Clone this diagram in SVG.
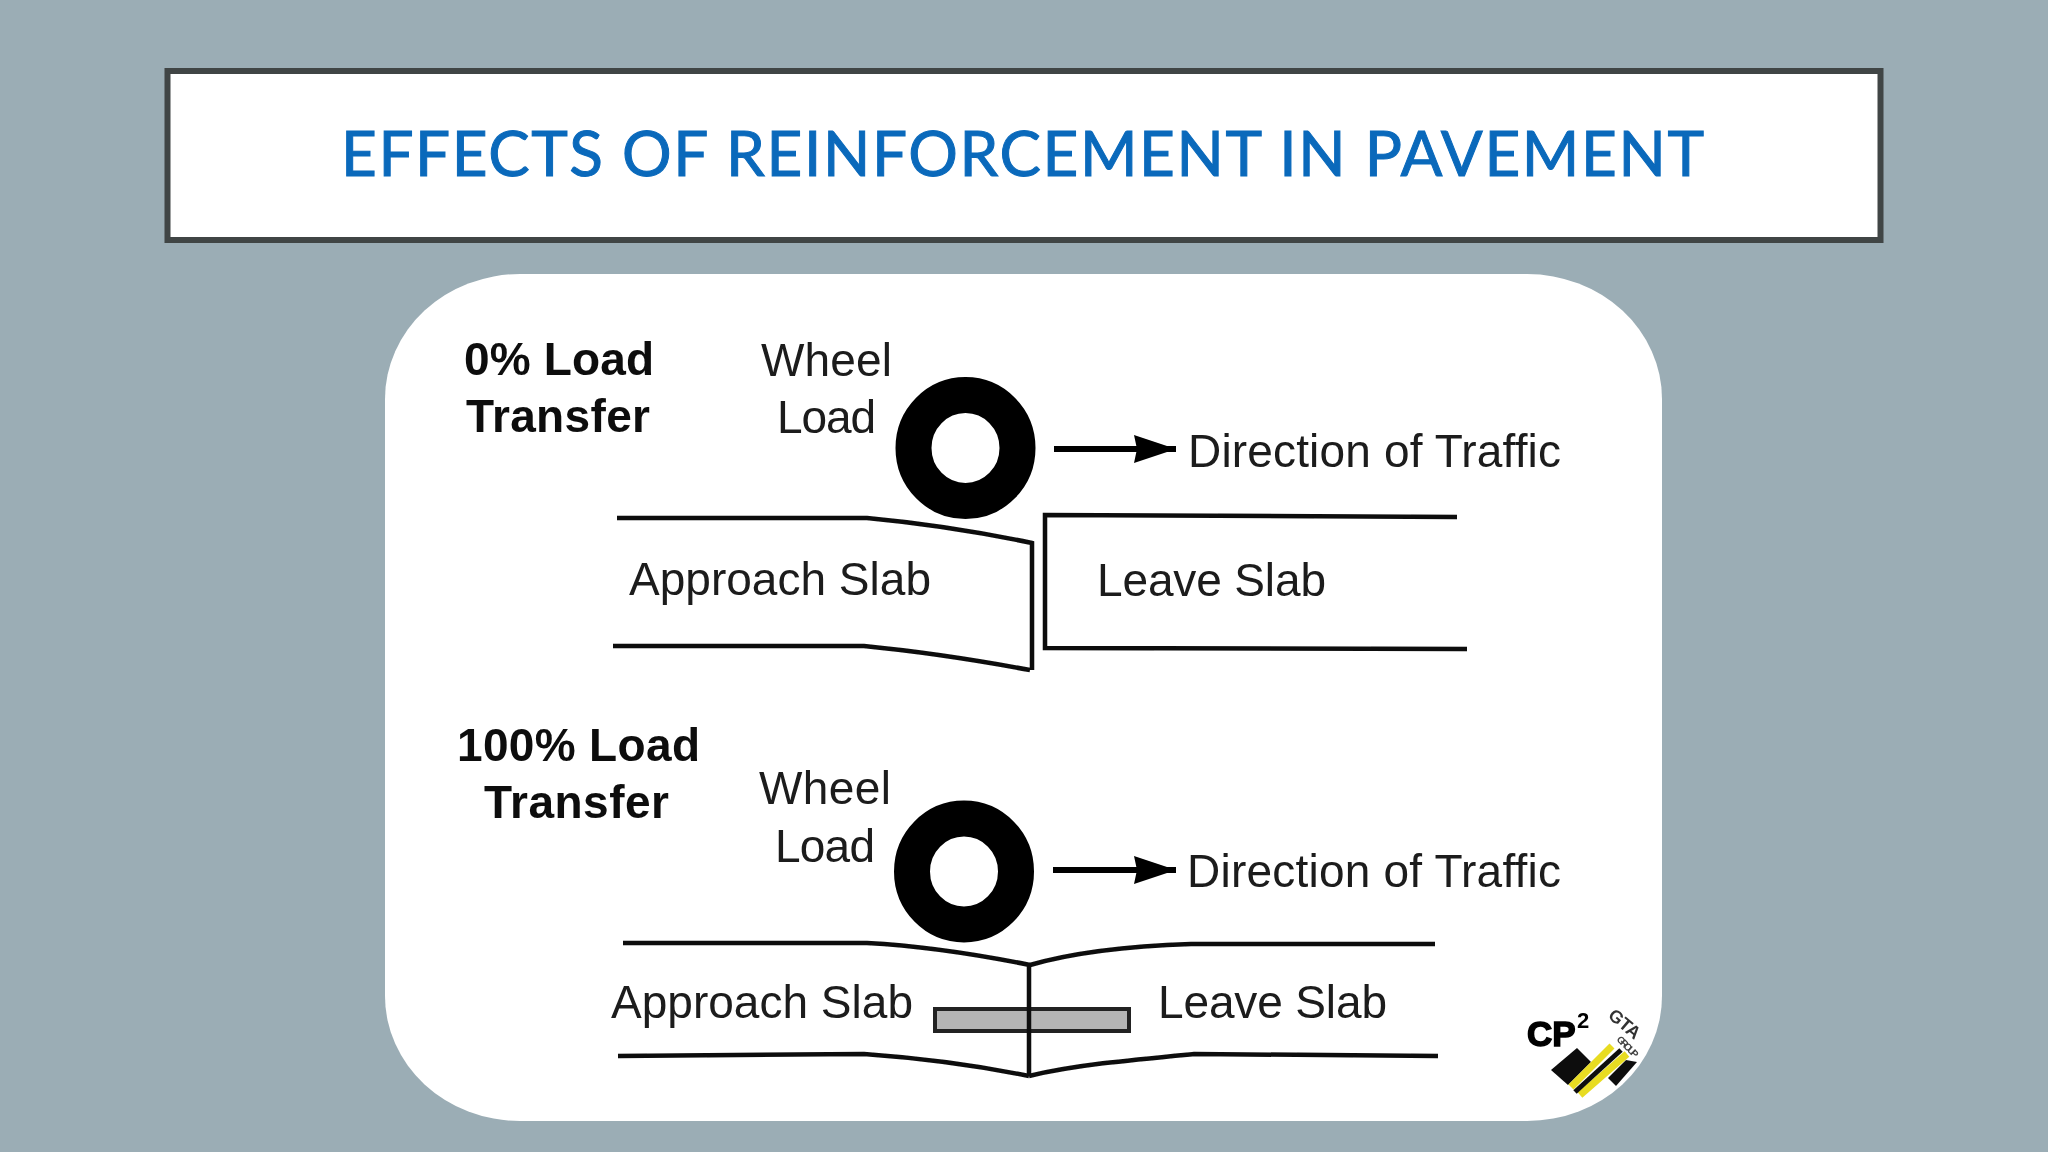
<svg xmlns="http://www.w3.org/2000/svg" width="2048" height="1152" viewBox="0 0 2048 1152">
<style>
.t{font-family:"Liberation Sans",Arial,sans-serif;font-size:46px;fill:#1a1a1a}
.b{font-weight:700;fill:#0c0c0c}
.l{fill:none;stroke:#0e0e0e;stroke-width:4.500;stroke-linejoin:miter}
.a{fill:none;stroke:#000;stroke-width:6}
</style>
<defs>
<filter id="soft" x="-5%" y="-5%" width="110%" height="110%"><feGaussianBlur stdDeviation="0.6"/></filter>
<marker id="head" markerUnits="userSpaceOnUse" markerWidth="44" markerHeight="30" refX="42" refY="15" orient="auto"><path d="M0 1 L42 15 L0 29 L3 15 Z" fill="#000"/></marker>
</defs>
<rect width="2048" height="1152" fill="#9badb5"/>
<g id="title">
<rect x="167.500" y="71" width="1713" height="169" fill="#fff" stroke="#404545" stroke-width="6"/>
<text x="341" y="176" font-family="Lato,'Open Sans',sans-serif" font-size="62" fill="#0a69bb" stroke="#0a69bb" stroke-width="1" textLength="1363" lengthAdjust="spacing">EFFECTS OF REINFORCEMENT IN PAVEMENT</text>
</g>
<g id="card"><rect x="385" y="274" width="1277" height="847" rx="135" ry="125" fill="#fff"/></g>
<g id="diagram" filter="url(#soft)">
<g id="top-heading"><text class="t b"><tspan x="464" y="375" textLength="190">0% Load</tspan><tspan x="466" y="432" textLength="184">Transfer</tspan></text></g>
<g id="top-wheel-label"><text class="t"><tspan x="761" y="376" textLength="131">Wheel</tspan><tspan x="777" y="433" textLength="99">Load</tspan></text></g>
<g id="top-wheel"><ellipse cx="965.500" cy="448" rx="52" ry="53" fill="none" stroke="#000" stroke-width="36"/></g>
<g id="top-traffic"><text class="t" x="1188" y="467" textLength="373">Direction of Traffic</text></g>
<g id="top-approach-slab">
<path class="l" d="M617 518 H867 C910 522 960 528 1032 543 V670 M613 646 H864 C905 650 965 658 1030 670"/>
<text class="t" x="629" y="595" textLength="302">Approach Slab</text>
</g>
<g id="top-leave-slab">
<path class="l" d="M1457 517 L1045 515 V648 L1467 649"/>
<text class="t" x="1097" y="596" textLength="229">Leave Slab</text>
</g>
<g id="bottom-heading"><text class="t b"><tspan x="457" y="761" textLength="243">100% Load</tspan><tspan x="484" y="818" textLength="185">Transfer</tspan></text></g>
<g id="bottom-wheel-label"><text class="t"><tspan x="759" y="804" textLength="132">Wheel</tspan><tspan x="775" y="862" textLength="100">Load</tspan></text></g>
<g id="bottom-wheel"><ellipse cx="964" cy="871.500" rx="52" ry="53" fill="none" stroke="#000" stroke-width="36"/></g>
<g id="bottom-traffic"><text class="t" x="1187" y="887" textLength="374">Direction of Traffic</text></g>
<g id="bottom-dowel"><rect x="935" y="1009" width="194" height="22" fill="#b5b5b5" stroke="#222" stroke-width="4"/></g>
<g id="bottom-approach-slab">
<path class="l" d="M623 943 H867 C925 946 980 955 1030 965 M618 1056 L864 1054 C920 1058 975 1065 1029 1076"/>
<text class="t" x="611" y="1018" textLength="302">Approach Slab</text>
</g>
<g id="bottom-leave-slab">
<path class="l" d="M1030 965 C1075 952 1130 946 1191 944 H1435 M1029 1076 C1075 1065 1130 1060 1194 1054 L1438 1056"/>
<text class="t" x="1158" y="1018" textLength="229">Leave Slab</text>
</g>
<g id="bottom-joint"><path class="l" d="M1029 965 V1076"/></g>
<g id="connectors">
<path class="a" marker-end="url(#head)" d="M1054 449 H1176"/>
<path class="a" marker-end="url(#head)" d="M1053 870 H1176"/>
</g>
<g id="logo">
<text x="1527" y="1046" font-family="'Liberation Sans',sans-serif" font-weight="700" font-size="35" fill="#000" stroke="#000" stroke-width="1.500">CP</text>
<text x="1577" y="1028" font-family="'Liberation Sans',sans-serif" font-weight="700" font-size="22" fill="#000">2</text>
<path d="M1598 1024 L1636 1060 L1582 1104 L1551 1070 Z" fill="#fff"/>
<path d="M1551 1070 L1577 1048 L1591 1062 L1568 1085 Z" fill="#0a0a0a"/>
<path d="M1608 1078 L1626 1060 L1637 1062 L1616 1086 Z" fill="#111"/>
<path d="M1571 1087 L1612 1046" stroke="#e8dc20" stroke-width="7" fill="none"/>
<path d="M1580 1095 L1627 1054" stroke="#e8dc20" stroke-width="7" fill="none"/>
<path d="M1575 1092 L1621 1050" stroke="#111" stroke-width="5" fill="none"/>
<text transform="translate(1607 1017) rotate(40)" font-family="'Liberation Sans',sans-serif" font-weight="700" font-size="18" fill="#333" textLength="36">GTA</text>
<text transform="translate(1616 1040) rotate(45)" font-family="'Liberation Sans',sans-serif" font-size="10" font-weight="700" fill="#444" textLength="26">GROUP</text>
</g>
</g>
</svg>
